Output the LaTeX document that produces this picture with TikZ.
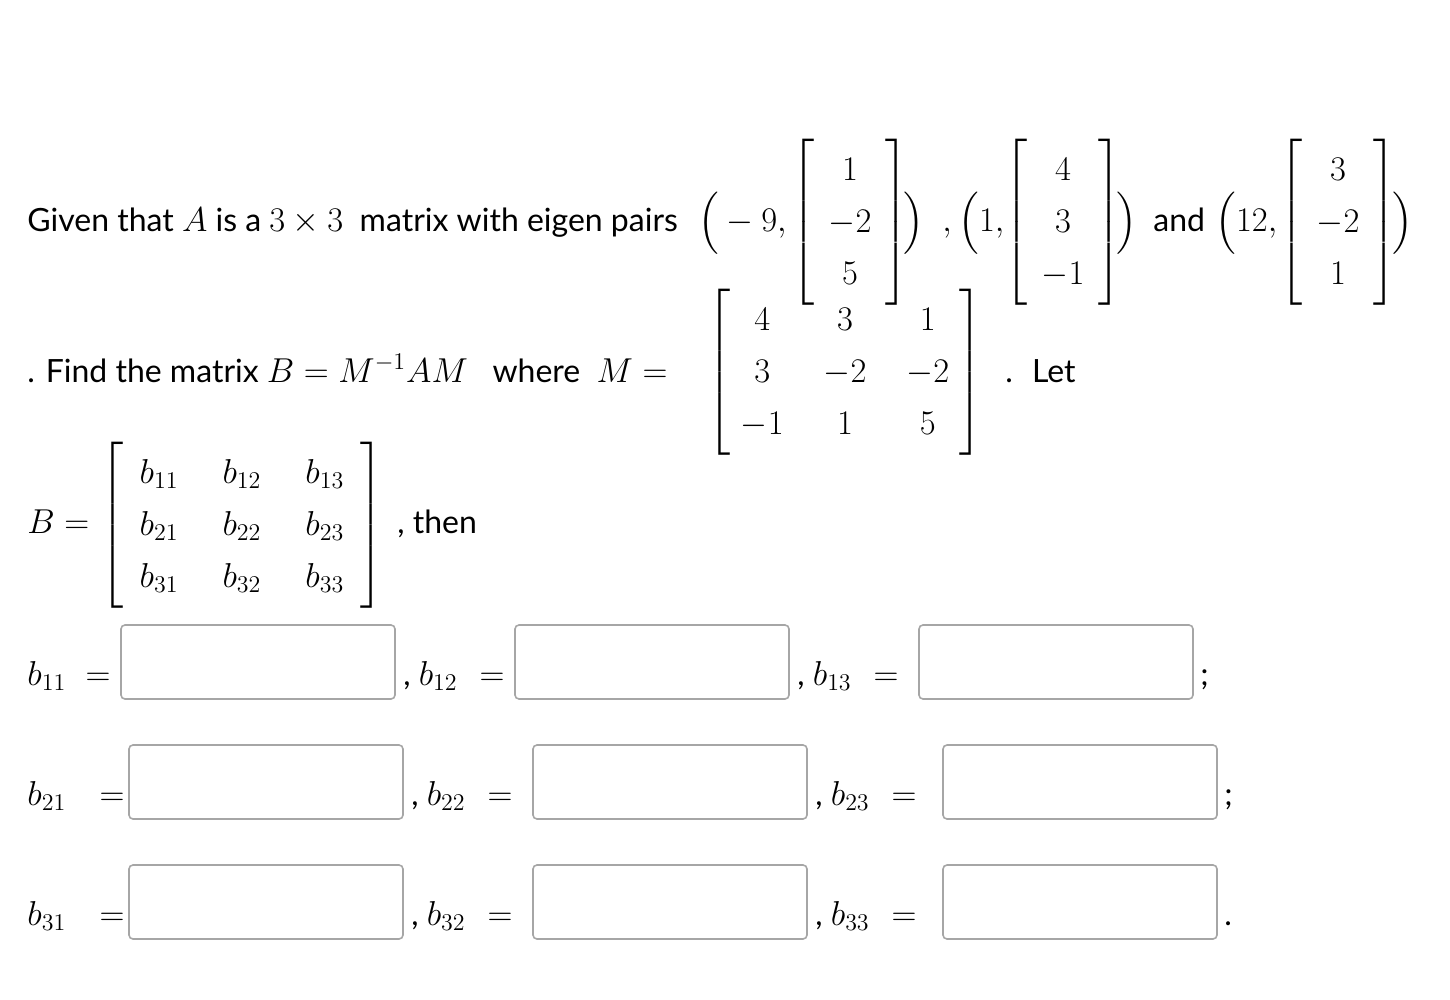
\documentclass[tikz,border=0pt]{standalone}
\usepackage{amsmath}
\usepackage{fontspec}
\setmainfont{Lato}
\newcommand{\mm}[1]{{\fontsize{18.5}{22}\selectfont$#1$}}
\begin{document}
\begin{tikzpicture}[x=0.5pt,y=-0.5pt,every node/.style={inner sep=0pt,font=\fontsize{16}{19}\selectfont},
  tx/.style={anchor=base west},
  eq/.style={anchor=base},
  ansbox/.style={draw=black!35,line width=0.8pt,rounded corners=2pt,fill=white}]
\useasboundingbox (0,0) rectangle (1450,1000);
\renewcommand{\arraystretch}{1.18}
% line 1
\node[tx] (t1) at (27,232) {Given that \mm{A} is a \mm{3\times 3}~ matrix with eigen pairs};
\node[tx] (p1) at (698,232) {\mm{\Big(-9,}};
\node (v1) at (850,222) {\mm{\left[\begin{array}{@{\hspace{7pt}}c@{\hspace{7pt}}}1\\-2\\5\end{array}\right]}};
\node[tx] (p2) at (903,232) {\mm{\Big)}};
\node[tx] (c1) at (942,232) {\mm{,}};
\node[tx] (p3) at (958,232) {\mm{\Big(1,}};
\node (v2) at (1063,222) {\mm{\left[\begin{array}{@{\hspace{7pt}}c@{\hspace{7pt}}}4\\3\\-1\end{array}\right]}};
\node[tx] (p4) at (1116,232) {\mm{\Big)}};
\node[tx] (and) at (1153,232) {and};
\node[tx] (p5) at (1215,232) {\mm{\Big(12,}};
\node (v3) at (1338,222) {\mm{\left[\begin{array}{@{\hspace{7pt}}c@{\hspace{7pt}}}3\\-2\\1\end{array}\right]}};
\node[tx] (p6) at (1392,232) {\mm{\Big)}};
% line 2
\node[tx] (t2) at (27,382) {. Find the matrix \mm{B=M^{-1}AM} ~ where ~\mm{M=}};
\node (M) at (845,372) {\setlength{\arraycolsep}{10pt}\mm{\left[\begin{array}{@{\hspace{5pt}}ccc@{\hspace{5pt}}}4&3&1\\3&-2&-2\\-1&1&5\end{array}\right]}};
\node[tx] (let) at (1005,382) {.~ Let};
% line 3
\node[tx] (Beq) at (27,533) {\mm{B=}};
\node (B) at (242,525) {\setlength{\arraycolsep}{11pt}\mm{\left[\begin{array}{@{\hspace{8pt}}ccc@{\hspace{8pt}}}b_{11}&b_{12}&b_{13}\\b_{21}&b_{22}&b_{23}\\b_{31}&b_{32}&b_{33}\end{array}\right]}};
\node[tx] (then) at (397,533) {, then};
% answers row 1
\node[tx] (l11) at (27,685) {\mm{b_{11}}}; \node[eq] (e11) at (98,685) {\mm{=}};
\draw[ansbox] (121,625) rectangle (395,699); \node (a11) at (258,662) {};
\node[tx] (l12) at (403,685) {, \mm{b_{12}}}; \node[eq] (e12) at (492,685) {\mm{=}};
\draw[ansbox] (515,625) rectangle (789,699); \node (a12) at (652,662) {};
\node[tx] (l13) at (797,685) {, \mm{b_{13}}}; \node[eq] (e13) at (886,685) {\mm{=}};
\draw[ansbox] (919,625) rectangle (1193,699); \node (a13) at (1056,662) {};
\node[tx] (s1) at (1200,685) {;};
% row 2
\node[tx] (l21) at (27,805) {\mm{b_{21}}}; \node[eq] (e21) at (112,805) {\mm{=}};
\draw[ansbox] (129,745) rectangle (403,819); \node (a21) at (266,782) {};
\node[tx] (l22) at (411,805) {, \mm{b_{22}}}; \node[eq] (e22) at (500,805) {\mm{=}};
\draw[ansbox] (533,745) rectangle (807,819); \node (a22) at (670,782) {};
\node[tx] (l23) at (815,805) {, \mm{b_{23}}}; \node[eq] (e23) at (904,805) {\mm{=}};
\draw[ansbox] (943,745) rectangle (1217,819); \node (a23) at (1080,782) {};
\node[tx] (s2) at (1224,805) {;};
% row 3
\node[tx] (l31) at (27,925) {\mm{b_{31}}}; \node[eq] (e31) at (112,925) {\mm{=}};
\draw[ansbox] (129,865) rectangle (403,939); \node (a31) at (266,902) {};
\node[tx] (l32) at (411,925) {, \mm{b_{32}}}; \node[eq] (e32) at (500,925) {\mm{=}};
\draw[ansbox] (533,865) rectangle (807,939); \node (a32) at (670,902) {};
\node[tx] (l33) at (815,925) {, \mm{b_{33}}}; \node[eq] (e33) at (904,925) {\mm{=}};
\draw[ansbox] (943,865) rectangle (1217,939); \node (a33) at (1080,902) {};
\node[tx] (s3) at (1224,925) {.};
\end{tikzpicture}
\end{document}
